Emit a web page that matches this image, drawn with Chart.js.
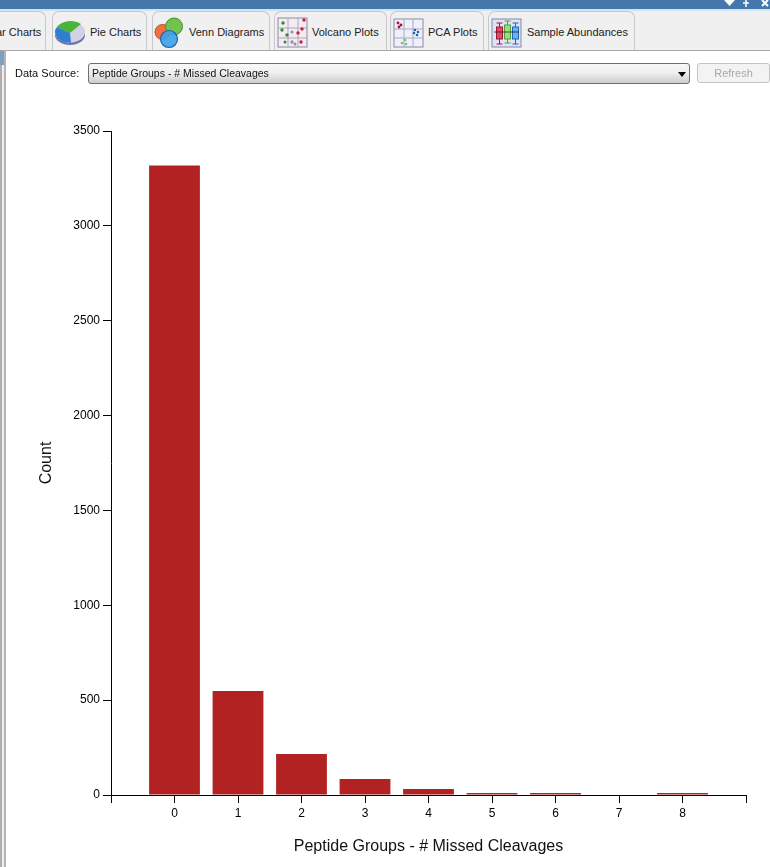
<!DOCTYPE html>
<html><head><meta charset="utf-8">
<style>
html,body{margin:0;padding:0;background:#fff;width:770px;height:867px;overflow:hidden;font-family:"Liberation Sans",Arial,sans-serif}
#chartWrap{position:absolute;left:0;top:0;width:770px;height:867px}
.topbar{position:absolute;left:0;top:0;width:770px;height:9px;background:#4477ab}
.topband{position:absolute;left:0;top:9px;width:770px;height:2px;background:#d5e2ef}
.tabstrip{position:absolute;left:0;top:11px;width:770px;height:39px;background:#f0f0f0;border-bottom:1px solid #a9a9a9}
.tab{position:absolute;top:11px;height:39px;background:#f0f0f0;border:1px solid #c6c8cc;border-bottom:none;border-radius:7px 7px 0 0;box-sizing:border-box}
.lbl{position:absolute;top:26px;font-size:11px;line-height:13px;color:#222;white-space:nowrap}
.icon{position:absolute}
.combo{position:absolute;left:88px;top:63px;width:602px;height:21px;box-sizing:border-box;border:1px solid #6f6f6f;border-radius:3px;background:linear-gradient(#f8f8f8,#f0f0f0 45%,#cdcdcd);font-size:10.5px;line-height:19px;padding-left:3px;color:#111}
.btn{position:absolute;left:697px;top:63px;width:73px;height:20px;box-sizing:border-box;border:1px solid #c4c4c4;border-radius:3px;background:#f3f3f3;color:#a8a8a8;font-size:11px;line-height:18px;text-align:center}
.arrow{position:absolute;left:678px;top:72px;width:0;height:0;border-left:4px solid transparent;border-right:4px solid transparent;border-top:5px solid #000}
.ds{position:absolute;left:15px;top:67px;font-size:11px;line-height:13px;color:#111}
.edgeA{position:absolute;left:0;top:51px;width:2px;height:816px;background:#b0b0b0}
.edgeM{position:absolute;left:2px;top:51px;width:2px;height:816px;background:#eeeeee}
.edgeB{position:absolute;left:4px;top:51px;width:2px;height:816px;background:#b4b4b4}
.edgeC{position:absolute;left:0;top:51px;width:4px;height:14px;background:#7f9fbf}
</style></head><body>
<div id="chartWrap"><canvas id="c" width="770" height="867"></canvas></div>
<div class="topbar"></div><div class="topband"></div>
<div class="tabstrip"></div>
<div class="tab" style="left:-10px;width:56px"></div>
<div class="tab" style="left:52px;width:95px"></div>
<div class="tab" style="left:152px;width:118px"></div>
<div class="tab" style="left:274px;width:113px"></div>
<div class="tab" style="left:390px;width:94px"></div>
<div class="tab" style="left:488px;width:147px"></div>
<div class="lbl" style="left:-4px">ar Charts</div>
<div class="lbl" style="left:90px">Pie Charts</div>
<div class="lbl" style="left:189px">Venn Diagrams</div>
<div class="lbl" style="left:312px">Volcano Plots</div>
<div class="lbl" style="left:428px">PCA Plots</div>
<div class="lbl" style="left:527px">Sample Abundances</div>
<svg class="icon" style="left:54px;top:20px" width="32" height="26"><ellipse cx="16" cy="15" rx="15" ry="10" fill="#6f74a8"/><ellipse cx="16" cy="12" rx="15" ry="10.5" fill="#d2d2e6"/><path d="M16 13 L3 7 A15 10.5 0 0 1 27 4Z" fill="#49b43a"/><path d="M16 13 L3 7 A15 10.5 0 0 0 17 22.5Z" fill="#2f7fd0"/></svg>
<svg class="icon" style="left:153px;top:17px" width="34" height="33"><circle cx="9.5" cy="15" r="7.5" fill="#f0703f" stroke="#c44d2a"/><circle cx="21" cy="9.500" r="8.500" fill="#72c24e" stroke="#3f8f2c"/><circle cx="16" cy="22" r="8.500" fill="#3aa2ea" fill-opacity=".9" stroke="#1b5fae" stroke-width="1.200"/></svg>
<svg class="icon" style="left:277px;top:17px" width="32" height="32"><rect x="1" y="1" width="29" height="29" fill="#f5ecee" stroke="#8888aa"/><path d="M1 11H30M1 21H30M11 1V30M21 1V30" stroke="#a8a8c8"/><g fill="#2f8a3a"><circle cx="6" cy="6" r="1.700"/><circle cx="5" cy="13" r="1.700"/><circle cx="10" cy="18" r="1.700"/><circle cx="8" cy="25" r="1.500"/></g><g fill="#c2213f"><circle cx="27" cy="3" r="1.700"/><circle cx="25" cy="12" r="1.700"/><circle cx="21" cy="16" r="1.700"/><circle cx="24" cy="25" r="1.700"/></g><g fill="#8f8fa8"><circle cx="15" cy="15" r="1.500"/><circle cx="15" cy="25" r="1.700"/><circle cx="18" cy="27" r="1.500"/></g></svg>
<svg class="icon" style="left:393px;top:18px" width="31" height="30"><rect x="1" y="1" width="29" height="28" fill="#f0f0fa" stroke="#8888aa"/><path d="M1 11H30M1 20H30M11 1V29M20 1V29" stroke="#a8a8c8"/><g fill="#a01530"><circle cx="5" cy="5" r="1.400"/><circle cx="8" cy="7" r="1.400"/><circle cx="6" cy="9" r="1.400"/></g><g fill="#1a66b8"><circle cx="22" cy="12" r="1.300"/><circle cx="25" cy="14" r="1.300"/><circle cx="21" cy="15" r="1.300"/><circle cx="24" cy="17" r="1.300"/></g><g fill="#7cc06a"><circle cx="12" cy="22" r="1.300"/><circle cx="9" cy="25" r="1.300"/><circle cx="13" cy="26" r="1.300"/></g></svg>
<svg class="icon" style="left:491px;top:18px" width="31" height="30"><rect x="1" y="1" width="29" height="28" fill="#dfe3f6" stroke="#8888aa"/><path d="M5.500 5H11.500M8.500 5V26M5.500 26H11.500" stroke="#a01530"/><rect x="5.500" y="9" width="6" height="12" fill="#e8456a" stroke="#a01530"/><path d="M13.500 3H19.500M16.500 3V25M13.500 25H19.500" stroke="#4f9f3a"/><rect x="13.500" y="7" width="6" height="14" fill="#9fdc80" stroke="#4f9f3a"/><path d="M21.500 5H27.500M24.500 5V26M21.500 26H27.500" stroke="#1a66b8"/><rect x="21.500" y="9" width="6" height="12" fill="#6fb0ec" stroke="#1a66b8"/><path d="M3 14H28" stroke="#222" stroke-width=".8"/></svg>
<svg class="icon" style="left:722px;top:0" width="48" height="8"><path d="M2 0H13L7.500 6Z" fill="#fff"/><path d="M24 0V7M21 3H27" stroke="#fff" stroke-width="1.500"/><path d="M40 0L46 6M46 0L40 6" stroke="#fff" stroke-width="2"/></svg>
<div class="edgeA"></div><div class="edgeM"></div><div class="edgeB"></div><div class="edgeC"></div>
<div class="ds">Data Source:</div>
<div class="combo">Peptide Groups - # Missed Cleavages</div>
<div class="arrow"></div>
<div class="btn">Refresh</div>
<script src="https://cdn.jsdelivr.net/npm/chart.js@4/dist/chart.umd.min.js"></script>
<script>
const categories = ["", "0", "1", "2", "3", "4", "5", "6", "7", "8", ""];
const counts = [null, 3318, 548, 216, 84, 32, 10, 10, 0, 10, null];
const yTicks = [0, 500, 1000, 1500, 2000, 2500, 3000, 3500];
const xTitle = "Peptide Groups - # Missed Cleavages";
const yTitle = "Count";
const barColor = "#b22222";

new Chart(document.getElementById("c"), {
  type: "bar",
  data: { labels: categories, datasets: [{ data: counts, backgroundColor: barColor, borderWidth: 0,
    barPercentage: 0.8, categoryPercentage: 1 }] },
  options: {
    responsive: false, animation: false, devicePixelRatio: 1,
    layout: { padding: { left: 0, right: 24, top: 131, bottom: 0 } },
    plugins: { legend: { display: false }, tooltip: { enabled: false } },
    scales: {
      x: {
        offset: false,
        grid: { display: true, offset: false, drawOnChartArea: false, drawTicks: true, tickLength: 8, color: "#000", lineWidth: 1 },
        border: { display: true, color: "#000", width: 1 },
        ticks: { color: "#000", font: { family: "Liberation Sans", size: 12 }, maxRotation: 0, autoSkip: false, padding: 3 },
        title: { display: true, text: xTitle, color: "#111", font: { family: "Liberation Sans", size: 16 }, padding: { top: 12, bottom: 11 } },
        afterFit(s) { s.height = 72; }
      },
      y: {
        min: 0, max: 3500,
        grid: { display: true, drawOnChartArea: false, drawTicks: true, tickLength: 8, color: "#000", lineWidth: 1 },
        border: { display: true, color: "#000", width: 1 },
        afterBuildTicks(s) { s.ticks = yTicks.map(v => ({ value: v })); },
        ticks: { color: "#000", font: { family: "Liberation Sans", size: 12 }, padding: 3, callback: v => String(v) },
        title: { display: true, text: yTitle, color: "#111", font: { family: "Liberation Sans", size: 16 }, padding: { top: 37, bottom: 0 } },
        afterFit(s) { s.width = 111; }
      }
    }
  }
});
</script>
</body></html>
